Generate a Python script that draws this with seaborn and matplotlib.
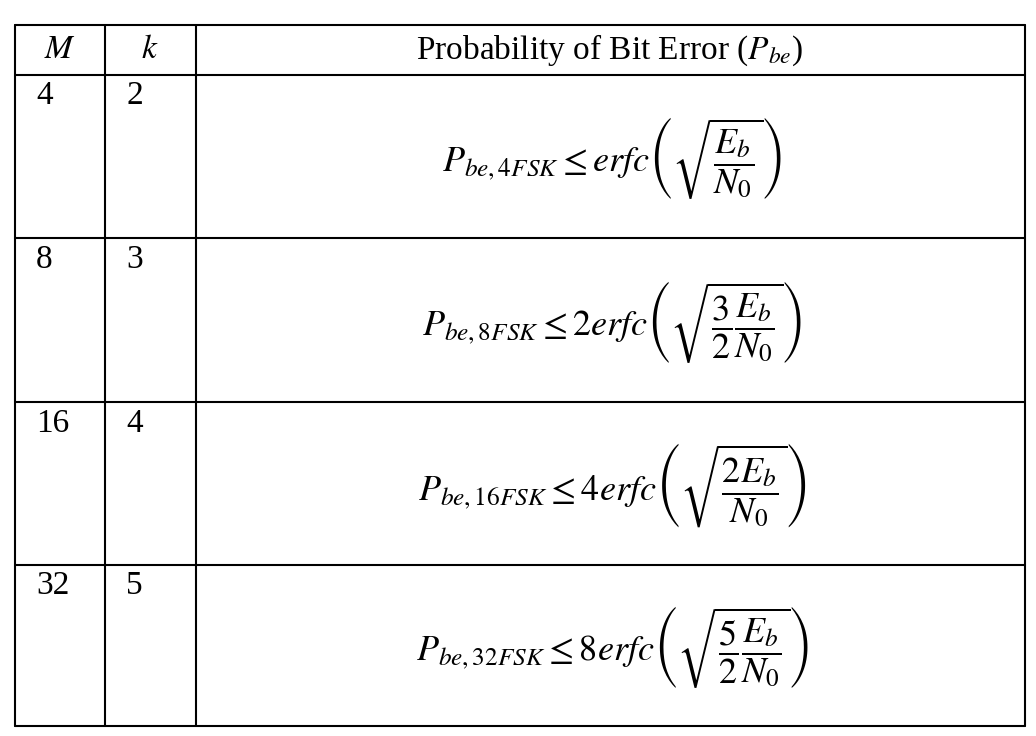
import matplotlib
matplotlib.use("Agg")
import matplotlib.pyplot as plt
import seaborn as sns

sns.set_theme(style="white")
plt.rcParams['font.family'] = ['Liberation Serif', 'DejaVu Serif']
plt.rcParams['mathtext.fontset'] = 'stix'
plt.rcParams['text.color'] = 'black'

# table data
M_values = ["4", "8", "16", "32"]
k_values = ["2", "3", "4", "5"]
labels = ["4FSK", "8FSK", "16FSK", "32FSK"]
coefs = ["", "2", "4", "8"]
args = [r"\dfrac{E_b}{N_0}", r"\dfrac{3}{2}\dfrac{E_b}{N_0}",
        r"\dfrac{2E_b}{N_0}", r"\dfrac{5}{2}\dfrac{E_b}{N_0}"]

col_edges = [15, 105, 196, 1025]
row_edges = [25, 75, 238, 402, 565, 726]

fig = plt.figure(figsize=(10.36, 7.36), dpi=100)
ax = fig.add_axes([0, 0, 1, 1])
ax.set_xlim(0, 1036)
ax.set_ylim(736, 0)
ax.axis("off")

for x in col_edges:
    ax.plot([x, x], [row_edges[0], row_edges[-1]], color="black", lw=1.5)
for y in row_edges:
    ax.plot([col_edges[0], col_edges[-1]], [y, y], color="black", lw=1.5)

hy = (row_edges[0] + row_edges[1]) / 2
ax.text(60, hy, r"$M$", ha="center", va="center", fontsize=24)
ax.text(150, hy, r"$k$", ha="center", va="center", fontsize=24)
ax.text(610, hy, r"Probability of Bit Error ($P_{be}$)", ha="center",
        va="center", fontsize=24)

for i in range(4):
    top = row_edges[i + 1]
    bot = row_edges[i + 2]
    ax.text(36, top + 6, M_values[i], ha="left", va="top", fontsize=24)
    ax.text(126, top + 6, k_values[i], ha="left", va="top", fontsize=24)
    formula = (r"$P_{be,%s} \leq %serfc\left(\sqrt{%s}\right)$"
               % (labels[i], coefs[i], args[i]))
    ax.text(612, (top + bot) / 2 + 2, formula, ha="center", va="center",
            fontsize=26)

fig.savefig("out.png", dpi=100, facecolor="white")
